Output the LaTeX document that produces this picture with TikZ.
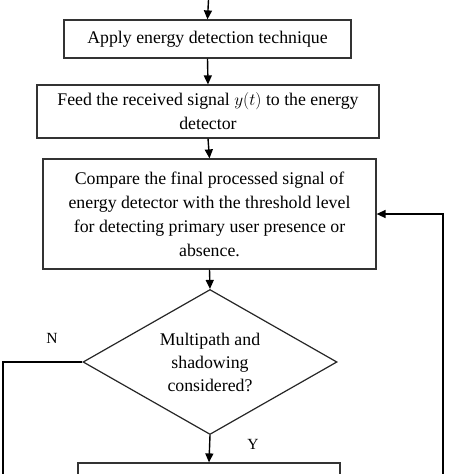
\documentclass[tikz,border=0pt]{standalone}
\usepackage{fontspec}
\setmainfont{Liberation Serif}
\usetikzlibrary{shapes.geometric,arrows.meta}
\begin{document}
\begin{tikzpicture}[x=1pt,y=-1pt,
  boxnode/.style={draw=black!80,line width=1.2pt,rectangle,inner sep=0pt,align=center,font=\fontsize{17.8}{24}\selectfont},
  decnode/.style={draw=black!85,line width=1.2pt,diamond,aspect=1.75,inner sep=0pt,align=center,font=\fontsize{17.8}{23}\selectfont},
  arr/.style={line width=1.4pt,-{Triangle[length=9pt,width=8pt]}},
  ln/.style={line width=1.4pt},
  lbl/.style={font=\fontsize{15.5}{18}\selectfont}]
\clip (0,0) rectangle (474,474);
\fill[white] (0,0) rectangle (474,474);
\node[boxnode,minimum width=287pt,minimum height=38pt] (b1) at (207.5,39) {Apply energy detection technique};
\node[boxnode,minimum width=342pt,minimum height=53pt] (b2) at (208,111.5) {Feed the received signal $y(t)$ to the energy\\detector};
\node[boxnode,minimum width=333pt,minimum height=110pt] (b3) at (209.5,214) {Compare the final processed signal of\\energy detector with the threshold level\\for detecting primary user presence or\\absence.};
\node[decnode,minimum width=254pt,minimum height=145pt] (d) at (210,362) {Multipath and\\shadowing\\considered?};
\node[boxnode,minimum width=262pt,minimum height=60pt] (b4) at (209,493) {};
\coordinate (top) at (209,-10);
\coordinate (nl) at (3,362);
\coordinate (nb) at (3,490);
\coordinate (rb) at (443,490);
\node[lbl] (ny) at (52,338) {N};
\node[lbl] (yy) at (253,444) {Y};
\draw[arr] (top) -- (b1.north);
\draw[arr] (b1.south) -- (b2.north);
\draw[arr] (b2.south) -- (b3.north);
\draw[arr] (b3.south) -- (d.north);
\draw[arr] (d.south) -- (b4.north);
\draw[ln] (d.west) -- (nl) -- (nb);
\draw[arr] (rb) |- (b3.east);
\end{tikzpicture}
\end{document}
